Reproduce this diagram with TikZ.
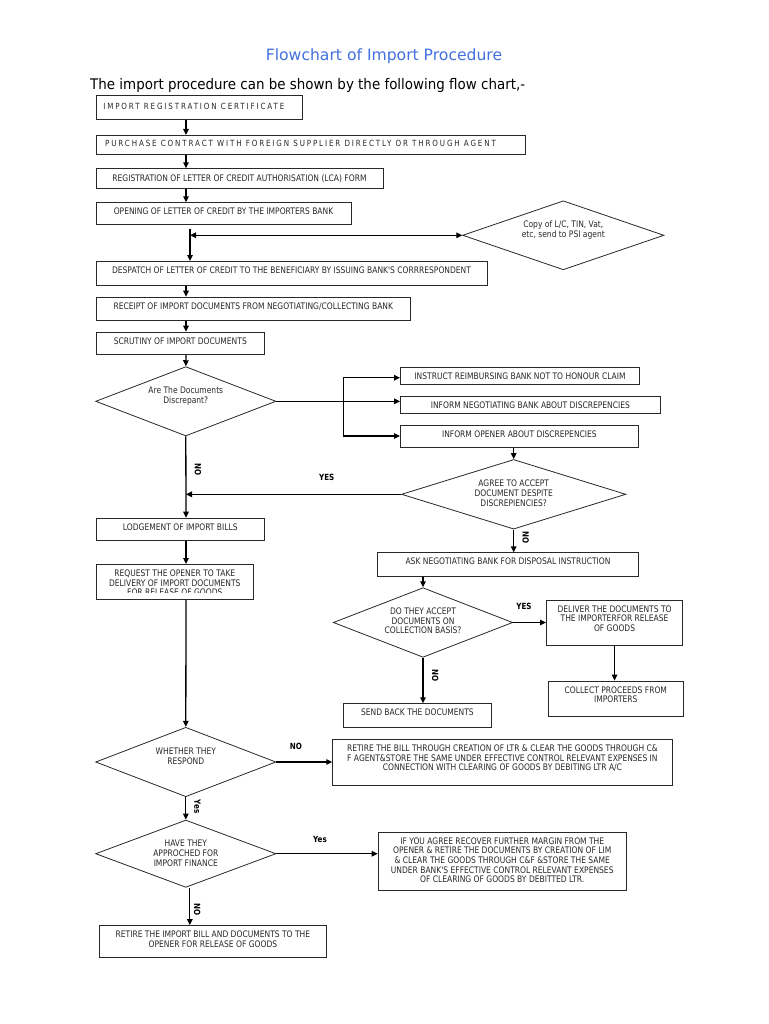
\documentclass[tikz,border=0pt]{standalone}
\usepackage{fontspec}
\usepackage{tikz}
\usetikzlibrary{shapes.geometric,arrows.meta}

\setmainfont{DejaVu Sans}
\newfontfamily\chartface[FakeStretch=0.84]{DejaVu Sans}
\newfontfamily\spacedface[FakeStretch=0.84,LetterSpace=22]{DejaVu Sans}
\newfontfamily\leadface[FakeStretch=0.92]{DejaVu Sans}
\newcommand{\chartfont}{\chartface\fontsize{9pt}{9.6pt}\selectfont}
\newcommand{\answerfont}{\chartface\bfseries\fontsize{8.5pt}{9pt}\selectfont}
\newcommand{\spacedfont}{\spacedface\fontsize{8.5pt}{9pt}\selectfont}
\newcommand{\leadfont}{\leadface\fontsize{14.6pt}{17pt}\selectfont}
\newcommand{\headfont}{\fontsize{15.6pt}{18pt}\selectfont}

\definecolor{titleblue}{RGB}{66,112,222}
\definecolor{inkgray}{RGB}{40,40,40}

\begin{document}
\begin{tikzpicture}[x=1pt, y=-1pt, >={Triangle[length=6pt,width=5.5pt]},
    stepbox/.style={draw=inkgray, line width=0.8pt, inner sep=0pt, anchor=north west},
    decision/.style={diamond, draw=inkgray, line width=0.8pt, inner sep=0pt},
    boxtext/.style={font=\chartfont, text=inkgray, align=center, inner sep=0pt, anchor=north, yshift=-5.7pt},
    spacedtext/.style={font=\spacedfont, text=inkgray, inner sep=0pt, anchor=north west},
    decisiontext/.style={font=\chartfont, text=inkgray, align=center, inner sep=0pt},
    flow/.style={line width=1.3pt},
    answer/.style={font=\answerfont, inner sep=0pt},
    answerdown/.style={answer, rotate=-90}]

  \fill[white] (0,0) rectangle (768,1024);
  \useasboundingbox (0,0) rectangle (768,1024);

  % heading
  \node[font=\headfont, text=titleblue, anchor=base, inner sep=0pt] (title) at (384,60.3) {Flowchart of Import Procedure};
  \node[font=\leadfont, anchor=base west, inner sep=0pt] (lead) at (90,90) {The import procedure can be shown by the following flow chart,-};

  % left column, top
  \node[stepbox, minimum width=206.2, minimum height=24.3] (reg) at (95.5,95) {};
  \node[spacedtext] (regtext) at ([xshift=7.6pt,yshift=-7.6pt]reg.north west) {IMPORT REGISTRATION CERTIFICATE};
  \node[stepbox, minimum width=429.5, minimum height=19.3] (buy) at (95.5,135) {};
  \node[spacedtext] (buytext) at ([xshift=9.5pt,yshift=-5.4pt]buy.north west) {PURCHASE CONTRACT WITH FOREIGN SUPPLIER DIRECTLY OR THROUGH AGENT};
  \node[stepbox, minimum width=287.2, minimum height=20, label={[boxtext]above:REGISTRATION OF LETTER OF CREDIT AUTHORISATION (LCA) FORM}] (lca) at (95.5,168.3) {};
  \node[stepbox, minimum width=255.2, minimum height=21.4, label={[boxtext]above:OPENING OF LETTER OF CREDIT BY THE IMPORTERS BANK}] (open) at (95.5,202.3) {};

  \node[decision, minimum width=201.3, minimum height=69] (copy) at (563.3,235.3) {};
  \node[decisiontext] (copytext) at ([yshift=5.5pt]copy.center) {Copy of L/C, TIN, Vat,\\etc, send to PSI agent};

  \node[stepbox, minimum width=391.2, minimum height=23.7, label={[boxtext]above:DESPATCH OF LETTER OF CREDIT TO THE BENEFICIARY BY ISSUING BANK'S CORRRESPONDENT}] (desp) at (95.5,261) {};
  \node[stepbox, minimum width=314.8, minimum height=23.3, label={[boxtext]above:RECEIPT OF IMPORT DOCUMENTS FROM NEGOTIATING/COLLECTING BANK}] (rcpt) at (95.5,296.7) {};
  \node[stepbox, minimum width=168.8, minimum height=22.6, label={[boxtext]above:SCRUTINY OF IMPORT DOCUMENTS}] (scru) at (95.5,331.7) {};

  \node[decision, minimum width=180.3, minimum height=69.3] (disc) at (185.8,401.3) {};
  \node[decisiontext] (disctext) at ([yshift=5.3pt]disc.center) {Are The Documents\\Discrepant?};

  % discrepancy branch
  \node[stepbox, minimum width=239.3, minimum height=17, label={[boxtext]above:INSTRUCT REIMBURSING BANK NOT TO HONOUR CLAIM}] (instr) at (400,366.5) {};
  \node[stepbox, minimum width=260, minimum height=17.6, label={[boxtext]above:INFORM NEGOTIATING BANK ABOUT DISCREPENCIES}] (neg) at (400,395.6) {};
  \node[stepbox, minimum width=238, minimum height=22.7, label={[boxtext]above:INFORM OPENER ABOUT DISCREPENCIES}] (opnr) at (400,424.5) {};

  \node[decision, minimum width=224.3, minimum height=69.6] (agree) at (513.7,494.3) {};
  \node[decisiontext] (agreetext) at ([yshift=1pt]agree.center) {AGREE TO ACCEPT\\DOCUMENT DESPITE\\DISCREPIENCIES?};

  \node[stepbox, minimum width=168.8, minimum height=22.3, label={[boxtext]above:LODGEMENT OF IMPORT BILLS}] (lodg) at (95.5,517.7) {};
  \node[stepbox, minimum width=157.8, minimum height=35.3] (req) at (95.5,564) {};
  \begin{scope}
    \clip (req.north west) rectangle ([yshift=8pt]req.south east);
    \node[boxtext] (reqtext) at (req.north) {REQUEST THE OPENER TO TAKE\\DELIVERY OF IMPORT DOCUMENTS\\FOR RELEASE OF GOODS};
  \end{scope}

  \node[stepbox, minimum width=260.7, minimum height=23.4, label={[boxtext]above:ASK NEGOTIATING BANK FOR DISPOSAL INSTRUCTION}] (ask) at (377.3,552.3) {};
  \node[decision, minimum width=179.4, minimum height=69.6] (basis) at (423,622.5) {};
  \node[decisiontext] (basistext) at ([yshift=1.5pt]basis.center) {DO THEY ACCEPT\\DOCUMENTS ON\\COLLECTION BASIS?};
  \node[stepbox, minimum width=136.3, minimum height=44.7, label={[boxtext]above:DELIVER THE DOCUMENTS TO\\THE IMPORTERFOR RELEASE\\OF GOODS}] (dlvr) at (546,599.8) {};
  \node[stepbox, minimum width=135.8, minimum height=35, label={[boxtext]above:COLLECT PROCEEDS FROM\\IMPORTERS}] (proc) at (547.5,680.7) {};
  \node[stepbox, minimum width=147.4, minimum height=23.4, label={[boxtext]above:SEND BACK THE DOCUMENTS}] (send) at (343.3,703.3) {};

  % left column, bottom
  \node[decision, minimum width=180.3, minimum height=69.4] (resp) at (185.8,762) {};
  \node[decisiontext] (resptext) at ([yshift=6pt]resp.center) {WHETHER THEY\\RESPOND};
  \node[stepbox, minimum width=339.4, minimum height=46.3, label={[boxtext]above:RETIRE THE BILL THROUGH CREATION OF LTR \& CLEAR THE GOODS THROUGH C\&\\F AGENT\&STORE THE SAME UNDER EFFECTIVE CONTROL RELEVANT EXPENSES IN\\CONNECTION WITH CLEARING OF GOODS BY DEBITING LTR A/C}] (ltr) at (332.3,739) {};
  \node[decision, minimum width=180.3, minimum height=67.3] (fin) at (185.8,853.7) {};
  \node[decisiontext] (fintext) at ([yshift=0.5pt]fin.center) {HAVE THEY\\APPROCHED FOR\\IMPORT FINANCE};
  \node[stepbox, minimum width=248.3, minimum height=58.3, label={[boxtext]above:IF YOU AGREE RECOVER FURTHER MARGIN FROM THE\\OPENER \& RETIRE THE DOCUMENTS BY CREATION OF LIM\\\& CLEAR THE GOODS THROUGH C\&F \&STORE THE SAME\\UNDER BANK'S EFFECTIVE CONTROL RELEVANT EXPENSES\\OF CLEARING OF GOODS BY DEBITTED LTR.}] (lim) at (377.7,831.7) {};
  \node[stepbox, minimum width=226.4, minimum height=32.3, label={[boxtext]above:RETIRE THE IMPORT BILL AND DOCUMENTS TO THE\\OPENER FOR RELEASE OF GOODS}] (rtr) at (99.3,925) {};

  % connectors
  \coordinate (col) at (186,0);
  \coordinate (lcstart) at (190,229);
  \coordinate (lctee) at (190,235.3);
  \coordinate (bustop) at (343.3,377.7);
  \coordinate (busbot) at (343.3,436);

  \draw[flow,->] (reg.south -| col) -- (buy.north -| col);
  \draw[flow,->] (buy.south -| col) -- (lca.north -| col);
  \draw[flow,->] (lca.south -| col) -- (open.north -| col);
  \draw[flow,->] (lcstart) -- (lcstart |- desp.north);
  \draw[flow,<->] (lctee) -- (copy.west);
  \draw[flow,->] (desp.south -| col) -- (rcpt.north -| col);
  \draw[flow,->] (rcpt.south -| col) -- (scru.north -| col);
  \draw[flow,->] (scru.south -| col) -- (disc.north);

  \draw[flow,->] (disc.east) -- (disc.east -| neg.west);
  \draw[flow,->] (bustop) -- (bustop -| instr.west);
  \draw[flow] (bustop) -- (busbot);
  \draw[flow,->] (busbot) -- (busbot -| opnr.west);
  \draw[flow,->] (agree.north |- opnr.south) -- (agree.north);
  \draw[flow,->] (agree.west) -- (agree.west -| col);
  \draw[flow,->] (disc.south) -- (lodg.north -| col);
  \draw[flow,->] (lodg.south -| col) -- (req.north -| col);
  \draw[flow,->] (req.south -| col) -- (resp.north);

  \draw[flow,->] (agree.south) -- (agree.south |- ask.north);
  \draw[flow,->] (basis.north |- ask.south) -- (basis.north);
  \draw[flow,->] (basis.east) -- (basis.east -| dlvr.west);
  \draw[flow,->] (dlvr.south) -- (dlvr.south |- proc.north);
  \draw[flow,->] (basis.south) -- (basis.south |- send.north);

  \draw[flow,->] (resp.east) -- (resp.east -| ltr.west);
  \draw[flow,->] (resp.south) -- (fin.north);
  \draw[flow,->] (fin.east) -- (fin.east -| lim.west);
  \draw[flow,->] ([xshift=4pt]fin.south) -- ([xshift=4pt]fin.south |- rtr.north);

  % answers
  \node[answerdown] (no1) at (198,470) {NO};
  \node[answer] (yes1) at (326.7,477.7) {YES};
  \node[answerdown] (no2) at (525.7,537.8) {NO};
  \node[answer] (yes2) at (524,606.7) {YES};
  \node[answerdown] (no3) at (435.3,675.5) {NO};
  \node[answer] (no4) at (296,746) {NO};
  \node[answerdown] (yes3) at (197.3,806.7) {Yes};
  \node[answer] (yes4) at (320,839.3) {Yes};
  \node[answerdown] (no5) at (197.3,910) {NO};
\end{tikzpicture}
\end{document}
